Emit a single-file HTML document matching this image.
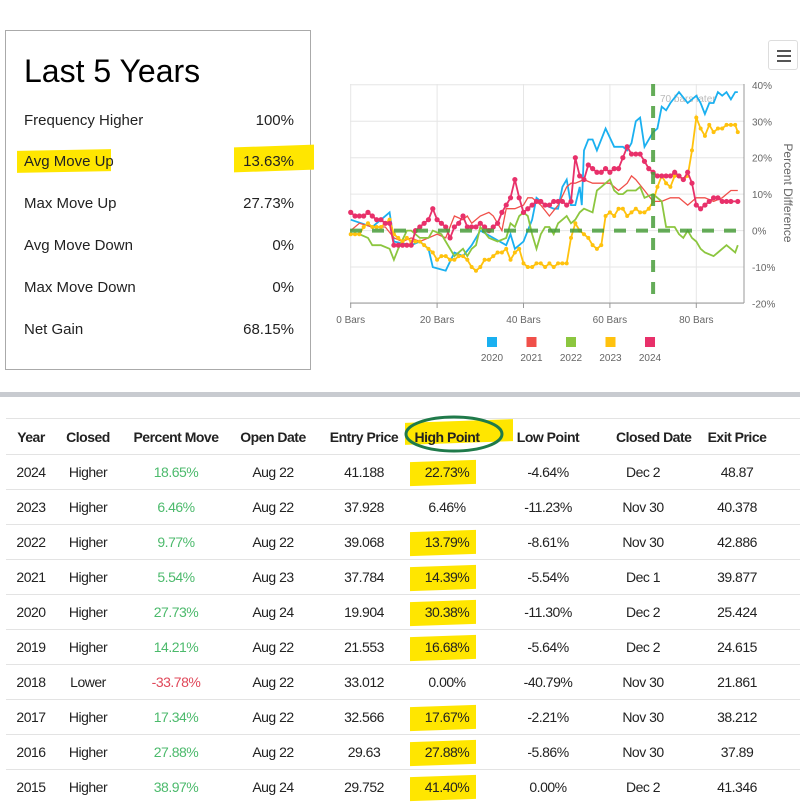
<!DOCTYPE html>
<html><head><meta charset="utf-8"><style>
*{margin:0;padding:0;box-sizing:border-box}
body{width:800px;height:803px;background:#fff;font-family:"Liberation Sans",Arial,sans-serif;position:relative;overflow:hidden;color:#222}
.box{position:absolute;left:5px;top:30px;width:306px;height:340px;border:1px solid #aaa}
.box h1{position:absolute;left:18px;top:22px;font-size:32px;font-weight:normal;color:#000}
.row{position:absolute;left:18px;width:270px;font-size:15px;color:#222}
.row span{position:absolute;right:0;top:0}
.hl{position:absolute;background:#ffe600}
.sep{position:absolute;left:0;top:392px;width:800px;height:5px;background:#c8cbd0}
.menu{position:absolute;left:768px;top:40px;width:30px;height:30px;border:1px solid #ddd;border-radius:3px;background:#fff}
.menu i{position:absolute;left:8px;width:14px;height:2px;background:#555}
table{position:absolute;left:6px;top:418px;width:798px;border-collapse:collapse;table-layout:fixed;font-size:14px;letter-spacing:-0.5px}
td,th{height:35px;text-align:center;border-top:1px solid #e3e3e3;padding:0;position:relative;white-space:nowrap}
th{font-weight:bold;color:#222;height:36px}
.g{color:#4cba6c}.r{color:#e0485a}
</style></head><body>
<div class="box">
<h1>Last 5 Years</h1>
<div class="hl" style="left:11px;top:119px;width:94px;height:22px;transform:skewY(-1deg)"></div>
<div class="hl" style="left:228px;top:115px;width:80px;height:25px;transform:skewY(-2deg)"></div>
<div class="row" style="top:81px">Frequency Higher<span>100%</span></div>
<div class="row" style="top:122px">Avg Move Up<span>13.63%</span></div>
<div class="row" style="top:164px">Max Move Up<span>27.73%</span></div>
<div class="row" style="top:206px">Avg Move Down<span>0%</span></div>
<div class="row" style="top:248px">Max Move Down<span>0%</span></div>
<div class="row" style="top:290px">Net Gain<span>68.15%</span></div>
</div>
<div class="menu"><i style="top:9px"></i><i style="top:14px"></i><i style="top:19px"></i></div>
<svg id="ch" style="position:absolute;left:0;top:0" width="800" height="380"></svg>
<div class="sep"></div>
<table>
<colgroup><col style="width:50px"><col style="width:64px"><col style="width:112px"><col style="width:82px"><col style="width:100px"><col style="width:66px"><col style="width:136px"><col style="width:54px"><col style="width:134px"></colgroup>
<tr><th>Year</th><th>Closed</th><th>Percent Move</th><th>Open Date</th><th>Entry Price</th><th><div class="hl" style="left:-9px;top:2px;width:108px;height:22px;transform:skewY(-2deg)"></div><span style="position:relative">High Point</span></th><th>Low Point</th><th>Closed Date</th><th>Exit Price</th></tr>
</table>
<svg style="position:absolute;left:0;top:0" width="800" height="803">
<ellipse cx="454" cy="434" rx="48" ry="17" fill="none" stroke="#1f7a4a" stroke-width="3"/>
</svg>
<script>
const rows=[["2024","Higher","18.65%","g","Aug 22","41.188","22.73%","-4.64%","Dec 2","48.87",1],
["2023","Higher","6.46%","g","Aug 22","37.928","6.46%","-11.23%","Nov 30","40.378",0],
["2022","Higher","9.77%","g","Aug 22","39.068","13.79%","-8.61%","Nov 30","42.886",1],
["2021","Higher","5.54%","g","Aug 23","37.784","14.39%","-5.54%","Dec 1","39.877",1],
["2020","Higher","27.73%","g","Aug 24","19.904","30.38%","-11.30%","Dec 2","25.424",1],
["2019","Higher","14.21%","g","Aug 22","21.553","16.68%","-5.64%","Dec 2","24.615",1],
["2018","Lower","-33.78%","r","Aug 22","33.012","0.00%","-40.79%","Nov 30","21.861",0],
["2017","Higher","17.34%","g","Aug 22","32.566","17.67%","-2.21%","Nov 30","38.212",1],
["2016","Higher","27.88%","g","Aug 22","29.63","27.88%","-5.86%","Nov 30","37.89",1],
["2015","Higher","38.97%","g","Aug 24","29.752","41.40%","0.00%","Dec 2","41.346",1]];
const t=document.querySelector("table");
rows.forEach(r=>{const tr=document.createElement("tr");
tr.innerHTML=`<td>${r[0]}</td><td>${r[1]}</td><td class="${r[3]}">${r[2]}</td><td>${r[4]}</td><td>${r[5]}</td><td>${r[10]?'<div class="hl" style="left:-4px;top:6px;width:66px;height:24px;transform:skewY(-2deg)"></div>':''}<span style="position:relative">${r[6]}</span></td><td>${r[7]}</td><td>${r[8]}</td><td>${r[9]}</td>`;t.appendChild(tr)});
const s=document.getElementById("ch");let h="";
const X=b=>350.7+b*4.32,Y=v=>230.6-v*3.645;
for(let v=-20;v<=40;v+=10)h+=`<line x1="350" x2="744" y1="${Y(v)}" y2="${Y(v)}" stroke="#e6e6e6"/><text x="752" y="${Y(v)+4}" font-size="10" fill="#666">${v}%</text>`;
for(let b=0;b<=80;b+=20)h+=`<line x1="${X(b)}" x2="${X(b)}" y1="84" y2="303" stroke="#e6e6e6"/><line x1="${X(b)}" x2="${X(b)}" y1="303" y2="308" stroke="#999"/><text x="${X(b)}" y="323" font-size="10" fill="#666" text-anchor="middle">${b} Bars</text>`;
h+=`<line x1="744" x2="744" y1="84" y2="303" stroke="#999"/><line x1="350" x2="744" y1="303" y2="303" stroke="#999"/>`;
h+=`<text x="660" y="102" font-size="10" fill="#bbb">70 bars later</text>`;
h+=`<text transform="translate(784,193) rotate(90)" font-size="12" fill="#666" text-anchor="middle">Percent Difference</text>`;
const P=s=>{const a=s.split(" ").map(p=>p.split(":").map(Number));return a};
const D={
"#1ab0f0":"0:3 5:1 9:5 10:-3 14:-4 16:-3 18:-5 19:-10 22:-11 24:-6 26:-7 28:-4 30:0 33:-2 36:-4 37:-1 38:-5 40:-3 42:3 43:9 45:7 47:6 48:6 49:12 50:14 51:7 52:7 53:12 53.5:7 54:22 55:25 56:25 57:22 59:28 61:23 63:23 64:22 65:24 66:30 67:31 68:23 70:27 71:28 72:34 73:33 74:35 76:38 78:35 80:37 81:35 82:32 83:35 84:35 85:38 86:37 87:38 88:36 89:38 89.6:38",
"#f0504a":"0:0 2:2 5:1 8:1 10:-2 12:-3 14:-2 16:-3 18:-2 20:-1 22:-2 24:4 26:3 27:4 28:2 30:4 32:5 33:4 35:0 36:6 38:6 40:7 41:9 42:9 44:7 46:4 48:7 50:12 51:13 52:13 54:14 56:13 58:13 60:13 62:11 64:13 65:15 66:14 68:11 70:8 72:8 74:9 76:9 78:7 80:9 82:9 84:8 86:9 88:11 89.6:11",
"#8cc63f":"0:-1 2:-1 4:-2 5:-4 7:-4 9:-5 10:-8 11:-5 13:0 14:0 16:-2 18:-2 19:0 21:-1 22:-3 24:-7 26:-5 27:-7 28:-5 29:-4 30:1 32:-2 34:-3 36:-2 37:2 38:1 39:4 40:5 41:4 42:-1 43:-5 44:-1 45:1 46:1 47:-1 48:2 49:3 50:4 51:2 52:3 53:5 54:6 56:5 57:11 58:12 59:13 60:14 61:11 62:10 63:10 64:11 66:11 67:12 68:9 70:10 71:9 72:8 73:1 75:1 76:-1 77:-2 78:0 79:-2 80:-3 81:-5 82:-6 84:-7 85:-6 86:-5 87:-4 88:-5 89:-6 89.6:-4",
"#ffc20e":"0:-1 1:-1 2:-1 3:1 4:2 5:1 6:1 7:1 8:2 9:3 10:-1 11:-2 12:-3 13:-2 14:-3 15:-3 16:-3 17:-4 18:-5 19:-6 20:-8 21:-7 22:-7 23:-8 24:-8 25:-7 26:-7 27:-8 28:-10 29:-11 30:-10 31:-8 32:-8 33:-7 34:-6 35:-6 36:-5 37:-8 38:-6 39:-5 40:-9 41:-10 42:-10 43:-9 44:-9 45:-10 46:-9 47:-10 48:-9 49:-9 50:-9 51:-2 52:2 53:0 54:-1 55:-2 56:-4 57:-5 58:-4 59:4 60:5 61:4 62:6 63:6 64:4 65:5 66:6 67:5 68:5 69:6 70:8 71:12 72:15 73:13 74:12 75:15 76:15 77:14 78:15 79:22 80:31 81:28 82:26 83:29 84:27 85:28 86:28 87:29 88:29 89:29 89.6:27",
"#e8306a":"0:5 1:4 2:4 3:4 4:5 5:4 6:3 7:3 8:2 9:2 10:-4 11:-4 12:-4 13:-4 14:-4 15:0 16:1 17:2 18:3 19:6 20:3 21:2 22:1 23:-2 24:1 25:2 26:4 27:1 28:1 29:1 30:2 31:1 32:0 33:1 34:2 35:5 36:7 37:9 38:14 39:9 40:5 41:6 42:7 43:8 44:8 45:7 46:7 47:8 48:8 49:8 50:7 51:8 52:20 53:15 54:14 55:18 56:17 57:16 58:16 59:17 60:16 61:17 62:17 63:20 64:23 65:21 66:21 67:21 68:19 69:17 70:16 71:15 72:15 73:15 74:15 75:16 76:15 77:14 78:16 79:13 80:7 81:6 82:7 83:8 84:9 85:9 86:8 87:8 88:8 89.6:8"};
const dots={"#ffc20e":2,"#e8306a":2.6};
for(const c in D){const a=P(D[c]);h+=`<polyline fill="none" stroke="${c}" stroke-width="${c=='#f0504a'?1.3:1.8}" points="${a.map(p=>X(p[0]).toFixed(1)+','+Y(p[1]).toFixed(1)).join(' ')}"/>`;
if(dots[c])a.forEach(p=>h+=`<circle cx="${X(p[0])}" cy="${Y(p[1])}" r="${dots[c]}" fill="${c}"/>`);}
h+=`<line x1="350" x2="744" y1="${Y(0)}" y2="${Y(0)}" stroke="#4a9e3c" stroke-width="4" stroke-dasharray="12,10" opacity=".85"/>`;
h+=`<line x1="${X(70)}" x2="${X(70)}" y1="84" y2="303" stroke="#4a9e3c" stroke-width="4" stroke-dasharray="12,10" opacity=".85"/>`;
[["#1ab0f0","2020"],["#f0504a","2021"],["#8cc63f","2022"],["#ffc20e","2023"],["#e8306a","2024"]].forEach((l,i)=>{const x=492+i*39.5;h+=`<rect x="${x-5}" y="337" width="10" height="10" fill="${l[0]}"/><text x="${x}" y="361" font-size="10" fill="#666" text-anchor="middle">${l[1]}</text>`});
s.innerHTML=h;
</script>
</body></html>
